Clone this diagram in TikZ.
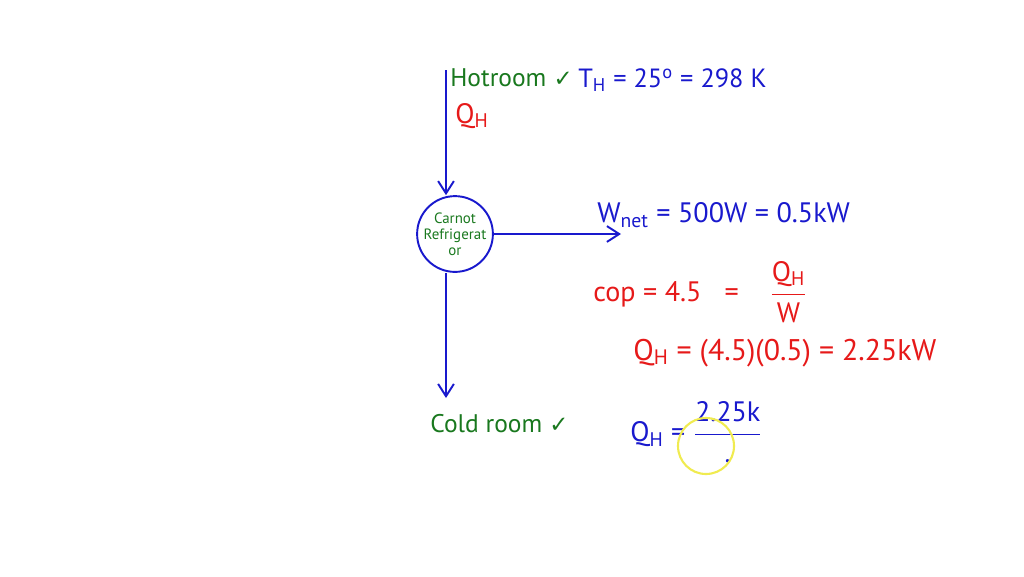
\documentclass[tikz,border=0pt]{standalone}
\usepackage{fontspec}
\usepackage{amsmath}
\setmainfont{PT Sans}
\newfontfamily\ticksym{DejaVu Sans}
\usetikzlibrary{arrows.meta,positioning}
\definecolor{penblue}{RGB}{25,25,205}
\definecolor{pengreen}{RGB}{25,120,30}
\definecolor{penred}{RGB}{230,25,25}
\definecolor{pointer}{RGB}{240,235,80}
\newcommand{\tick}{\;{\ticksym\fontsize{13}{14}\selectfont\char"2713}}
\newcommand{\lowidx}[1]{\textsubscript{#1}}

\begin{document}
\begin{tikzpicture}[x=0.02cm,y=-0.02cm,
  flow/.style={penblue,line width=1.1pt,-{Straight Barb[length=7pt,width=9pt]}},
  txt/.style={anchor=west,inner sep=0pt,font=\fontsize{16}{19}\selectfont},
  room/.style={txt,pengreen,font=\fontsize{14.5}{17}\selectfont},
  small/.style={text=pengreen,align=center,font=\fontsize{8.5}{9}\selectfont}]
\useasboundingbox (0,0) rectangle (1024,576);
% engine and heat flows
\node[small,draw=penblue,line width=1.1pt,circle,minimum size=74*0.02cm,inner sep=0pt] (carnot) at (455,234) {Carnot\\Refrigerat\\or};
\coordinate (hottop) at (446,70);
\coordinate (coldtip) at (446,398);
\coordinate (wtip) at (621,234);
\draw[flow] (hottop) -- (hottop |- carnot.north);
\draw[flow] (coldtip |- carnot.south) -- (coldtip);
\draw[flow] (carnot.east) -- (wtip);
% labels
\node[room] (hot) at (450,78) {Hotroom\tick};
\node[txt,penblue,font=\fontsize{15}{18}\selectfont] (th) at (578,80) {T\lowidx{H} = 25\textsuperscript{o} = 298 K};
\node[txt,penred] (qh) at (455,116) {Q\lowidx{H}};
\node[room] (cold) at (430,424) {Cold room\tick};
\node[txt,penblue] (wnet) at (597,215) {W\lowidx{net} = 500W = 0.5kW};
% working
\node[txt,penred] (cop) at (593,292) {cop = 4.5 \;\;=\;\;\; $\dfrac{\text{Q\lowidx{H}}}{\text{W}}$};
\node[txt,penred,font=\fontsize{17}{20}\selectfont] (qhval) at (633,353) {Q\lowidx{H} = (4.5)(0.5) = 2.25kW};
\node[txt,penblue] (qhlast) at (630,432) {Q\lowidx{H} = $\dfrac{\text{2.25k}}{\text{.}}$};
\draw[pointer,line width=1.2pt] (706,446) circle (28);
\end{tikzpicture}
\end{document}
